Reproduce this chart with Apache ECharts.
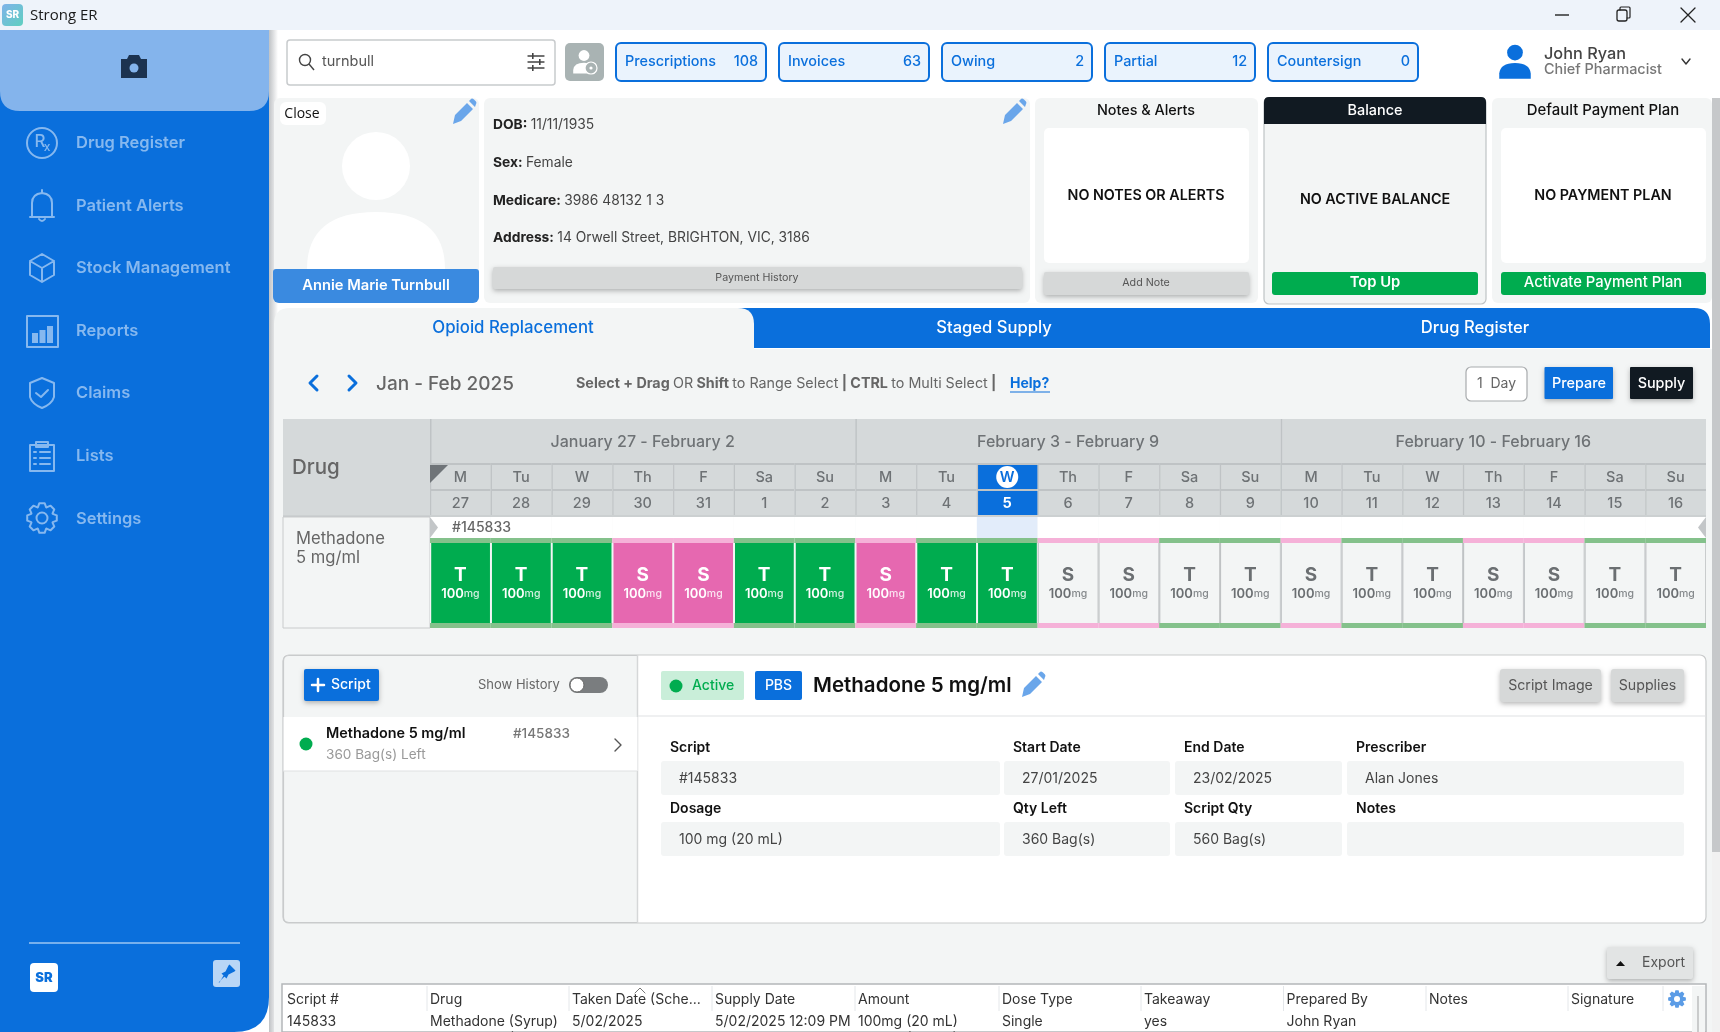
<!DOCTYPE html>
<html><head><meta charset="utf-8">
<style>html,body{margin:0;padding:0;background:#fff;overflow:hidden}#c{width:1720px;height:1032px}</style>
<script src="https://cdn.jsdelivr.net/npm/echarts@6/dist/echarts.min.js"></script>
</head><body><div id="c"></div>
<script>
// ---------- data ----------
const weekLabels = ['January 27 - February 2','February 3 - February 9','February 10 - February 16'];
const dayNames = ['M','Tu','W','Th','F','Sa','Su','M','Tu','W','Th','F','Sa','Su','M','Tu','W','Th','F','Sa','Su'];
const dayDates = ['27','28','29','30','31','1','2','3','4','5','6','7','8','9','10','11','12','13','14','15','16'];
const doseCodes = ['T','T','T','S','S','T','T','S','T','T','S','S','T','T','S','T','T','S','S','T','T'];
const doseMg = [100,100,100,100,100,100,100,100,100,100,100,100,100,100,100,100,100,100,100,100,100];
const doseSupplied = [1,1,1,1,1,1,1,1,1,1,0,0,0,0,0,0,0,0,0,0,0];
const todayIndex = 9;
const scriptId = '#145833';
const navItems = ['Drug Register','Patient Alerts','Stock Management','Reports','Claims','Lists','Settings'];
const pillNames = ['Prescriptions','Invoices','Owing','Partial','Countersign'];
const pillCounts = [108,63,2,12,0];
const patientRows = [['DOB:','11/11/1935'],['Sex:','Female'],['Medicare:','3986 48132 1 3'],['Address:','14 Orwell Street, BRIGHTON, VIC, 3186']];
const tableHeaders = ['Script #','Drug','Taken Date (Sche...','Supply Date','Amount','Dose Type','Takeaway','Prepared By','Notes','Signature'];
const tableRow1 = ['145833','Methadone (Syrup)','5/02/2025','5/02/2025 12:09 PM','100mg (20 mL)','Single','yes','John Ryan','',''];
const tableRow2 = ['145833','Methadone (Syrup)','4/02/2025','4/02/2025 12:09 PM','100mg (20 mL)','Single','yes','John Ryan','',''];

// ---------- helpers ----------
const F = 'Inter, "Noto Sans", sans-serif';
const BLUE = '#0a6fdc', ICON = '#86b8ef', BG = '#f3f5f5', GREEN = '#00ac4f', PINK = '#e668b0';
const g = [];
let shapeCount = 0;
function rect(x,y,w,h,fill,r,extra){ g.push(Object.assign({type:'rect',shape:{x,y,width:w,height:h,r:r||0},style:Object.assign({fill},(extra&&extra.style)||{})},extra&&extra.z!=null?{z:extra.z}:{})); }
function shadowRect(x,y,w,h,fill,r,blur){ rect(x,y,w,h,fill,r,{style:{shadowBlur:blur||5,shadowColor:'rgba(0,0,0,.28)',shadowOffsetY:2}}); }
function txt(x,y,text,size,color,weight,align,family,extra){ g.push({type:'text',x,y:y+1,style:Object.assign({text,fontSize:size,fill:color,fontWeight:weight||400,align:align||'left',verticalAlign:'middle',fontFamily:family||F},extra||{})}); }
function path(x,y,d,style){ const name='svgp'+(shapeCount++); echarts.graphic.registerShape(name,echarts.graphic.extendPath(d,{})); g.push({type:name,x,y,style}); }
function circle(cx,cy,r,style){ g.push({type:'circle',shape:{cx,cy,r},style}); }
function line(x1,y1,x2,y2,color,w){ g.push({type:'line',shape:{x1,y1,x2,y2},style:{stroke:color,lineWidth:w||1}}); }
function stroke(c,w){ return {fill:'none',stroke:c,lineWidth:w||2,lineJoin:'round',lineCap:'round'}; }
function pencil(x,y,c){ path(x,y,'M-11 12 L-9 3 L3 -9 L9 -3 L-3 9 Z M5 -11 L7 -13 Q8 -14 10 -12.5 L12 -10.5 Q13 -9 12 -8 L11 -5 Z',{fill:c||'#6aa6ea'}); }
function gearPath(r1,r2,n){ let d=''; for(let i=0;i<n;i++){ const a=i/n*Math.PI*2, s=Math.PI/n; const p=[[a-s*.95,r1],[a-s*.45,r2],[a+s*.45,r2],[a+s*.95,r1]]; p.forEach((q,j)=>{ d+=((i===0&&j===0)?'M':'L')+(q[1]*Math.cos(q[0])).toFixed(2)+' '+(q[1]*Math.sin(q[0])).toFixed(2)+' '; }); } return d+'Z'; }
function person(x,y,c,s){ circle(x,y-9*s,7.5*s,{fill:c}); path(x,y,`M${-15*s} ${16*s} L${-15*s} ${11*s} Q${-14*s} ${1*s} 0 ${1*s} Q${14*s} ${1*s} ${15*s} ${11*s} L${15*s} ${16*s} Z`,{fill:c}); }

// ---------- page chrome ----------
rect(0,0,1720,1032,'#ffffff');
rect(0,0,1720,30,'#eef3fa');
g.push({type:'rect',shape:{x:2,y:4,width:21,height:22,r:4},style:{fill:{type:'linear',x:0,y:0,x2:1,y2:1,colorStops:[{offset:0,color:'#7fb2ea'},{offset:1,color:'#5fd0c0'}]}}});
txt(12.5,14,'SR',10,'#fff',800,'center');
txt(30,15,'Strong ER',15,'#1a1a1a',400,'left','"Open Sans"');
line(1555,15,1569,15,'#222',1.4);
g.push({type:'rect',shape:{x:1617,y:10,width:10,height:11,r:2},style:stroke('#222',1.3)});
path(0,0,'M1620 10 V8 Q1620 7 1621 7 H1629 Q1630 7 1630 8 V17 Q1630 18 1629 18 H1627',stroke('#222',1.2));
path(0,0,'M1681 8 L1695 22 M1695 8 L1681 22',stroke('#222',1.3));

// main panel
g.push({type:'rect',shape:{x:269,y:30,width:9,height:1002},style:{fill:{type:'linear',x:0,y:0,x2:1,y2:0,colorStops:[{offset:0,color:'#bfc2c5'},{offset:1,color:'#ffffff'}]}}});
rect(274,349,1438,683,BG);
rect(1712,98,8,754,'#c6c8ca');
rect(1712,852,8,180,'#f1f1f1');

// sidebar
path(0,0,'M0 30 H269 V997 Q269 1032 234 1032 H0 Z',{fill:BLUE});
path(0,0,'M0 30 H269 V91 Q269 111 249 111 H20 Q0 111 0 91 Z',{fill:'#84b4ec'});
path(134,66,'M-13 -7 H-7 L-5 -11 H5 L7 -7 H13 V12 H-13 Z',{fill:'#1c3350'});
circle(134,68,4.5,{fill:'#84b4ec'});
const navY = [142,205,267,330,392,455,518];
navItems.forEach((n,i)=>txt(76,navY[i],n,16.5,ICON,600));
// Rx
circle(42,143,15,stroke(ICON,2));
txt(40,141,'R',17,ICON,500,'center'); txt(47,146,'x',12,ICON,500,'center');
// bell
path(42,205,'M-10 11 V-2 Q-10 -11 0 -12 Q10 -11 10 -2 V11 M-12 12 H12 M-3 14 Q0 18 3 14 M0 -12 V-15',stroke(ICON,2));
// box
path(42,268,'M0 -14 L12 -7 V7 L0 14 L-12 7 V-7 Z M-12 -7 L0 0 L12 -7 M0 0 V14',stroke(ICON,2));
// reports
rect(27,316,31,31,'none',0,{style:stroke(ICON,2)});
rect(32,333,6,10,ICON); rect(39.5,330,6,13,ICON); rect(47,326,6,17,ICON);
// claims
path(42,393,'M0 -15 L12 -10 V4 Q10 11 0 15 Q-10 11 -12 4 V-10 Z M-6 0 L-1 4 L6 -3',stroke(ICON,2));
// lists
path(42,456,'M-12 -11 H12 V15 H-12 Z M-6 -14 H6 V-9 H-6 Z M-8 -4 H-6 M-2 -4 H8 M-8 2 H-6 M-2 2 H8 M-8 8 H-6 M-2 8 H8',stroke(ICON,2));
// settings
path(42,518,gearPath(11.5,15,8),stroke(ICON,2));
circle(42,518,5.5,stroke(ICON,2));
line(29,943,240,943,'#9cc6f3',1.5);
rect(30,963,28,29,'#fff',4);
txt(44,977,'SR',13,BLUE,900,'center');
rect(213,960,27,27,'#b9d6f6',3);
path(226.5,973.5,'M-8 9 L-2 3 L-5 0 L-1 -2 L2 -8 L3 -9 L9 -3 L8 -2 L2 1 L0 5 L-3 2 L-7 9 Z',{fill:BLUE});

// top toolbar
rect(287,40,268,45,'#fff',3,{style:{stroke:'#c8cbcd',lineWidth:1.5}});
circle(305,60,5.5,stroke('#444',1.4)); line(309,64,314,70,'#444',1.4);
txt(322,61,'turnbull',14.5,'#555');
['M528 56 H544','M528 62 H544','M528 68 H544'].forEach(d=>path(0,0,d,stroke('#444',1.3)));
rect(532,53,1.6,6,'#444'); rect(539,59,1.6,6,'#444'); rect(532,65,1.6,6,'#444');
rect(565,43,39,38,'#a9b3b3',5);
person(584,62,'#fff',.72);
circle(591,68,6,{fill:'#a9b3b3',stroke:'#fff',lineWidth:1.2});
circle(591,68,1.6,{fill:'#fff'});
const pillX = [616,779,942,1105,1268];
pillNames.forEach((n,i)=>{
  rect(pillX[i],43,150,38,'#eaf3fd',5,{style:{stroke:BLUE,lineWidth:2}});
  txt(pillX[i]+9,61,n,14.4,BLUE,500);
  txt(pillX[i]+142,61,String(pillCounts[i]),14.4,BLUE,500,'right');
});
person(1515,62,BLUE,1.05);
txt(1544,53,'John Ryan',16.3,'#444',500);
txt(1544,69,'Chief Pharmacist',14.4,'#777',500);
path(0,0,'M1682 59 L1686 64 L1690 59',stroke('#333',1.4));

// patient cards
rect(274,98,205,205,BG,6);
rect(280,102,46,23,'#fff',6);
txt(302,113,'Close',14,'#111',400,'center','"Open Sans"');
pencil(464,112);
circle(376,166,34,{fill:'#fff'});
path(0,0,'M307 269 Q307 212 376 212 Q445 212 445 269 Z',{fill:'#fff'});
rect(273,269,206,34,'#3a8ae0',[3,3,6,6]);
txt(376,285,'Annie Marie Turnbull',14.7,'#fff',600,'center');
rect(484,98,546,205,BG,6);
pencil(1014,112);
const infoY = [125,163,201,238];
patientRows.forEach((r,i)=>{
  g.push({type:'text',x:493,y:infoY[i],style:{text:`{b|${r[0]}} {n|${r[1]}}`,verticalAlign:'middle',rich:{b:{fontFamily:F,fontSize:13.8,fontWeight:700,fill:'#222'},n:{fontFamily:F,fontSize:13.8,fontWeight:400,fill:'#444'}}}});
});
shadowRect(493,267,529,22,'#d6d8d8',2);
txt(757,277,'Payment History',10.7,'#555',400,'center');

rect(1035,98,223,205,BG,6);
txt(1146,110,'Notes & Alerts',14.4,'#111',500,'center');
rect(1044,128,205,135,'#fff',5);
txt(1146,195,'NO NOTES OR ALERTS',14.3,'#111',600,'center');
shadowRect(1044,272,205,23,'#d6d8d8',2);
txt(1146,282,'Add Note',10.7,'#555',400,'center');

rect(1264,98,222,206,BG,5,{style:{stroke:'#bfc3c5',lineWidth:1.2}});
path(0,0,'M1264 124 V102 Q1264 97 1269 97 H1481 Q1486 97 1486 102 V124 Z',{fill:'#111a22'});
txt(1375,110,'Balance',14.4,'#fff',500,'center');
txt(1375,199,'NO ACTIVE BALANCE',14.3,'#111',600,'center');
rect(1272,272,206,23,GREEN,3);
txt(1375,282,'Top Up',14.8,'#fff',600,'center');

rect(1492,98,220,205,BG,6);
txt(1603,110,'Default Payment Plan',14.9,'#111',500,'center');
rect(1501,128,205,135,'#fff',5);
txt(1603,195,'NO PAYMENT PLAN',14.3,'#111',600,'center');
rect(1501,272,205,23,GREEN,3);
txt(1603,282,'Activate Payment Plan',14.8,'#fff',500,'center');

// tabs
path(0,0,'M720 349 V308 H1694 Q1710 308 1710 324 V348 H720 Z',{fill:BLUE});
path(0,0,'M274 349 V324 Q274 308 290 308 H738 Q754 308 754 324 V349 Z',{fill:BG});
txt(513,327,'Opioid Replacement',16.8,BLUE,500,'center');
txt(994,327,'Staged Supply',16.6,'#fff',500,'center');
txt(1475,327,'Drug Register',16.6,'#fff',500,'center');

// calendar toolbar
path(0,0,'M317 376 L310 383 L317 390',stroke(BLUE,3));
path(0,0,'M349 376 L356 383 L349 390',stroke(BLUE,3));
txt(376,383,'Jan - Feb 2025',19,'#666',500);
g.push({type:'text',x:576,y:384,style:{text:'{b|Select + Drag} {n|OR} {b|Shift} {n|to Range Select} {b|| CTRL} {n|to Multi Select} {b||}',verticalAlign:'middle',rich:{b:{fontFamily:F,fontSize:14.3,fontWeight:700,fill:'#666'},n:{fontFamily:F,fontSize:14.3,fontWeight:400,fill:'#666'}}}});
txt(1010,383,'Help?',14,BLUE,700);
line(1010,392,1050,392,BLUE,1.2);
rect(1466,367,61,34,'#fff',5,{style:{stroke:'#a8abad',lineWidth:1.2}});
txt(1496.5,383,'1  Day',14,'#666',400,'center');
shadowRect(1544.5,367,68.5,32,BLUE,1);
txt(1579,382.5,'Prepare',14.4,'#fff',500,'center');
shadowRect(1630,367,63,32,'#111a22',1);
txt(1661.5,382.5,'Supply',14.4,'#fff',500,'center');

// calendar left column
rect(283,419,147,96,'#d5d9da');
txt(292,467,'Drug',20.5,'#666',500);
rect(283,517,147,111,BG,0,{style:{stroke:'#c9cbcc',lineWidth:1}});
txt(296,538,'Methadone',16.6,'#666',400);
txt(296,557,'5 mg/ml',16.6,'#666',400);
line(283,516,1706,516,'#bfc3c5',1.5);

// lower panel
rect(283,655,1423,268,'#fff',6,{style:{stroke:'#c9cbcc',lineWidth:1.2}});
path(0,0,'M637.5 655.5 H289 Q283.5 655.5 283.5 661 V917 Q283.5 922.5 289 922.5 H637.5 Z',{fill:BG,stroke:'#c9cbcc',lineWidth:1.2});
line(637.5,655,637.5,923,'#d5d7d8',1.2);
line(637.5,716,1706,716,'#e0e2e3',1.2);
shadowRect(304,669,75,32,BLUE,2);
path(0,0,'M318 679 V691 M312 685 H324',stroke('#fff',2.5));
txt(331,684,'Script',14,'#fff',500);
txt(478,684,'Show History',13,'#666',400);
rect(569,677,39,16,'#7a7d7f',8);
circle(577,685,7,{fill:'#fff',stroke:'#666',lineWidth:1});
rect(283.5,717,354,54,'#fff');
line(283,771,637,771,'#dfe1e2',1);
circle(306,744,6.5,{fill:GREEN});
txt(326,733,'Methadone 5 mg/ml',14.4,'#111',600);
txt(513,733,'#145833',13.5,'#777',500);
txt(326,754,'360 Bag(s) Left',13.6,'#999',400);
path(0,0,'M615 739 L621 745 L615 751',stroke('#555',1.4));
rect(661,671,83,29,'#c9eed9',2);
circle(676,686,6.5,{fill:GREEN});
txt(692,685,'Active',14,GREEN,500);
rect(755,671,47,29,BLUE,2);
txt(778.5,685,'PBS',14,'#fff',500,'center');
txt(813,685,'Methadone 5 mg/ml',20.5,'#111',600);
pencil(1033,685);
shadowRect(1500,669,101,33,'#d6d8d8',3);
txt(1550.5,685,'Script Image',14.2,'#555',400,'center');
shadowRect(1611,669,73,33,'#d6d8d8',3);
txt(1647.5,685,'Supplies',14.2,'#555',400,'center');
const fieldX = [661,1004,1175,1347], fieldW = [339,166,167,337];
const labelsRow1 = ['Script','Start Date','End Date','Prescriber'], valuesRow1 = ['#145833','27/01/2025','23/02/2025','Alan Jones'];
const labelsRow2 = ['Dosage','Qty Left','Script Qty','Notes'], valuesRow2 = ['100 mg (20 mL)','360 Bag(s)','560 Bag(s)',''];
fieldX.forEach((x,i)=>{
  txt(x+9,747,labelsRow1[i],14,'#111',600); rect(x,761,fieldW[i],34,BG,3); txt(x+18,778,valuesRow1[i],14,'#444',400);
  txt(x+9,808,labelsRow2[i],14,'#111',600); rect(x,822,fieldW[i],34,BG,3); txt(x+18,839,valuesRow2[i],14,'#444',400);
});
shadowRect(1607,947,86,32,'#e2e4e4',2);
path(0,0,'M1616 966 L1620.5 961 L1625 966 Z',{fill:'#111'});
txt(1642,962,'Export',14,'#555',400);

// bottom table
rect(282,984,1424,48,'#fff',0,{style:{stroke:'#b4b7b9',lineWidth:1.5}});
rect(1692,986,13,46,'#f3f5f5');
line(1698,996,1698,1032,'#b8babb',1.4);
const colX = [287,430,572,715,858,1002,1144,1286.5,1429,1571];
tableHeaders.forEach((h,i)=>{
  if(i) line(colX[i]-3,986,colX[i]-3,1011,'#e4e7ea',1);
  txt(colX[i],998.5,h,14,'#333',400);
  if(tableRow1[i]) txt(colX[i],1020.5,tableRow1[i],14,'#333',400);
  if(tableRow2[i]) txt(colX[i],1037.5,tableRow2[i],14,'#333',400);
});
line(1663,986,1663,1011,'#e4e7ea',1);
path(0,0,'M635 993 L640 988 L645 993',stroke('#666',.9));
path(1677,999,gearPath(6.5,9,8),{fill:'#5b9ce6'});
circle(1677,999,3,{fill:'#fff'});

// ---------- calendar grids ----------
const L = 430, W = 1276;
const grids = [
  {left:L,width:W,top:419,height:44},
  {left:L,width:W,top:465,height:24},
  {left:L,width:W,top:491,height:24},
  {left:L,width:W,top:517,height:21},
  {left:L,width:W,top:538,height:90}
];
const xAxes = [
  {gridIndex:0,type:'category',data:weekLabels,show:false},
  {gridIndex:1,type:'category',data:dayNames.map((d,i)=>i),show:false},
  {gridIndex:2,type:'category',data:dayDates.map((d,i)=>i),show:false},
  {gridIndex:3,type:'category',data:dayDates.map((d,i)=>i),show:false},
  {gridIndex:4,type:'category',data:dayDates.map((d,i)=>i),show:false}
];
const yAxes = grids.map((_,i)=>({gridIndex:i,type:'value',min:0,max:1,show:false}));
const GREY='#d5d9da', SEP='#bfc3c5', TXT='#6e7275';

function cellBox(api){ const c=api.coord([api.value(0),1]), b=api.coord([api.value(0),0]), s=api.size([1,1]); return {x:c[0]-s[0]/2,y:c[1],w:s[0],h:b[1]-c[1],cx:c[0],cy:(c[1]+b[1])/2}; }

const series = [
  {type:'custom',name:'Weeks',xAxisIndex:0,yAxisIndex:0,silent:true,animation:false,data:weekLabels.map((t,i)=>[i]),
    encode:{x:0},renderItem(p,api){ const b=cellBox(api); const t=weekLabels[api.value(0)];
      return {type:'group',children:[
        {type:'rect',shape:{x:b.x,y:b.y,width:b.w,height:b.h+2},style:{fill:GREY}},
        {type:'rect',shape:{x:b.x,y:b.y,width:1.5,height:b.h},style:{fill:SEP}},
        {type:'text',style:{x:b.cx,y:b.cy+1,text:t,align:'center',verticalAlign:'middle',fontFamily:F,fontSize:16,fontWeight:500,fill:TXT}}
      ]}; }},
  {type:'custom',name:'Days',xAxisIndex:1,yAxisIndex:1,silent:true,animation:false,data:dayNames.map((t,i)=>[i]),
    encode:{x:0},renderItem(p,api){ const i=api.value(0), b=cellBox(api), today=i===todayIndex; const ch=[
        {type:'rect',shape:{x:b.x,y:b.y-2,width:b.w,height:b.h+2},style:{fill:SEP}},
        {type:'rect',shape:{x:b.x+1.2,y:b.y,width:b.w-1.2,height:b.h},style:{fill:today?BLUE:GREY}}];
      if(today) ch.push({type:'circle',shape:{cx:b.cx,cy:b.cy,r:11},style:{fill:'#fff'}});
      ch.push({type:'text',style:{x:b.cx,y:b.cy+1,text:dayNames[i],align:'center',verticalAlign:'middle',fontFamily:F,fontSize:14.5,fontWeight:today?600:500,fill:today?BLUE:TXT}});
      return {type:'group',children:ch}; }},
  {type:'custom',name:'Dates',xAxisIndex:2,yAxisIndex:2,silent:true,animation:false,data:dayDates.map((t,i)=>[i]),
    encode:{x:0},renderItem(p,api){ const i=api.value(0), b=cellBox(api), today=i===todayIndex;
      return {type:'group',children:[
        {type:'rect',shape:{x:b.x,y:b.y-2,width:b.w,height:b.h+2},style:{fill:SEP}},
        {type:'rect',shape:{x:b.x+1.2,y:b.y,width:b.w-1.2,height:b.h},style:{fill:today?BLUE:GREY}},
        {type:'text',style:{x:b.cx,y:b.cy+1,text:dayDates[i],align:'center',verticalAlign:'middle',fontFamily:F,fontSize:14.5,fontWeight:today?700:500,fill:today?'#fff':TXT}}
      ]}; }},
  {type:'custom',name:'Script',xAxisIndex:3,yAxisIndex:3,silent:true,animation:false,data:dayDates.map((t,i)=>[i]),
    encode:{x:0},renderItem(p,api){ const i=api.value(0), b=cellBox(api); const ch=[
        {type:'rect',shape:{x:b.x,y:b.y,width:b.w,height:b.h},style:{fill:i===todayIndex?'#e2ecfa':'#fff'}}];
      if(i===0) ch.push({type:'polygon',shape:{points:[[b.x,b.y],[b.x+8,b.cy],[b.x,b.y+b.h]]},style:{fill:'#c3c6c8'}});
      if(i===20) ch.push({type:'polygon',shape:{points:[[b.x+b.w,b.y],[b.x+b.w-8,b.cy],[b.x+b.w,b.y+b.h]]},style:{fill:'#c3c6c8'}});
      return {type:'group',children:ch}; }},
  {type:'custom',name:'ScriptId',xAxisIndex:3,yAxisIndex:3,silent:true,animation:false,z:3,data:[[0]],
    encode:{x:0},renderItem(p,api){ const b=cellBox(api);
      return {type:'text',style:{x:b.x+22,y:b.cy,text:scriptId,align:'left',verticalAlign:'middle',fontFamily:F,fontSize:14,fontWeight:500,fill:'#666'}}; }},
  {type:'custom',name:'Doses',xAxisIndex:4,yAxisIndex:4,silent:true,animation:false,data:doseCodes.map((c,i)=>[i,doseMg[i]]),
    encode:{x:0},renderItem(p,api){ const i=api.value(0), c=api.coord([i,1]), e=api.coord([i,0]), s=api.size([1,1]);
      const x=c[0]-s[0]/2, w=s[0], y=c[1], h=e[1]-c[1], code=doseCodes[i], done=doseSupplied[i]===1;
      const base=code==='T'?GREEN:PINK, strip=code==='T'?'#84c18b':'#f5b1d8', strong=done?'#fff':'#6b6f72', soft=done?'rgba(255,255,255,.82)':'#85898c';
      return {type:'group',children:[
        {type:'rect',shape:{x,y:y+5,width:w,height:h-10},style:{fill:done?'#f3f5f5':'#bfc2c4'}},
        {type:'rect',shape:{x:x+1.2,y:y+5,width:w-2,height:h-10},style:{fill:done?base:BG}},
        {type:'rect',shape:{x,y,width:w,height:5},style:{fill:strip}},
        {type:'rect',shape:{x,y:y+h-5,width:w,height:5},style:{fill:strip}},
        {type:'text',style:{x:c[0],y:y+37,text:code,align:'center',verticalAlign:'middle',fontFamily:F,fontSize:19,fontWeight:700,fill:strong}},
        {type:'text',style:{x:c[0],y:y+56,text:`{a|${api.value(1)}}{b|mg}`,align:'center',verticalAlign:'middle',rich:{a:{fontFamily:F,fontSize:13,fontWeight:600,fill:strong},b:{fontFamily:F,fontSize:10.5,fontWeight:500,fill:soft}}}}
      ]}; }},
];

const chart = echarts.init(document.getElementById('c'),null,{renderer:'canvas',width:1720,height:1032});
const overlay = [{type:'polygon',z:50,shape:{points:[[430,465],[448,465],[430,483]]},style:{fill:'#6f7478'}}];
chart.setOption({animation:false,grid:grids,xAxis:xAxes,yAxis:yAxes,series,graphic:{elements:g.concat(overlay)}});
</script></body></html>
